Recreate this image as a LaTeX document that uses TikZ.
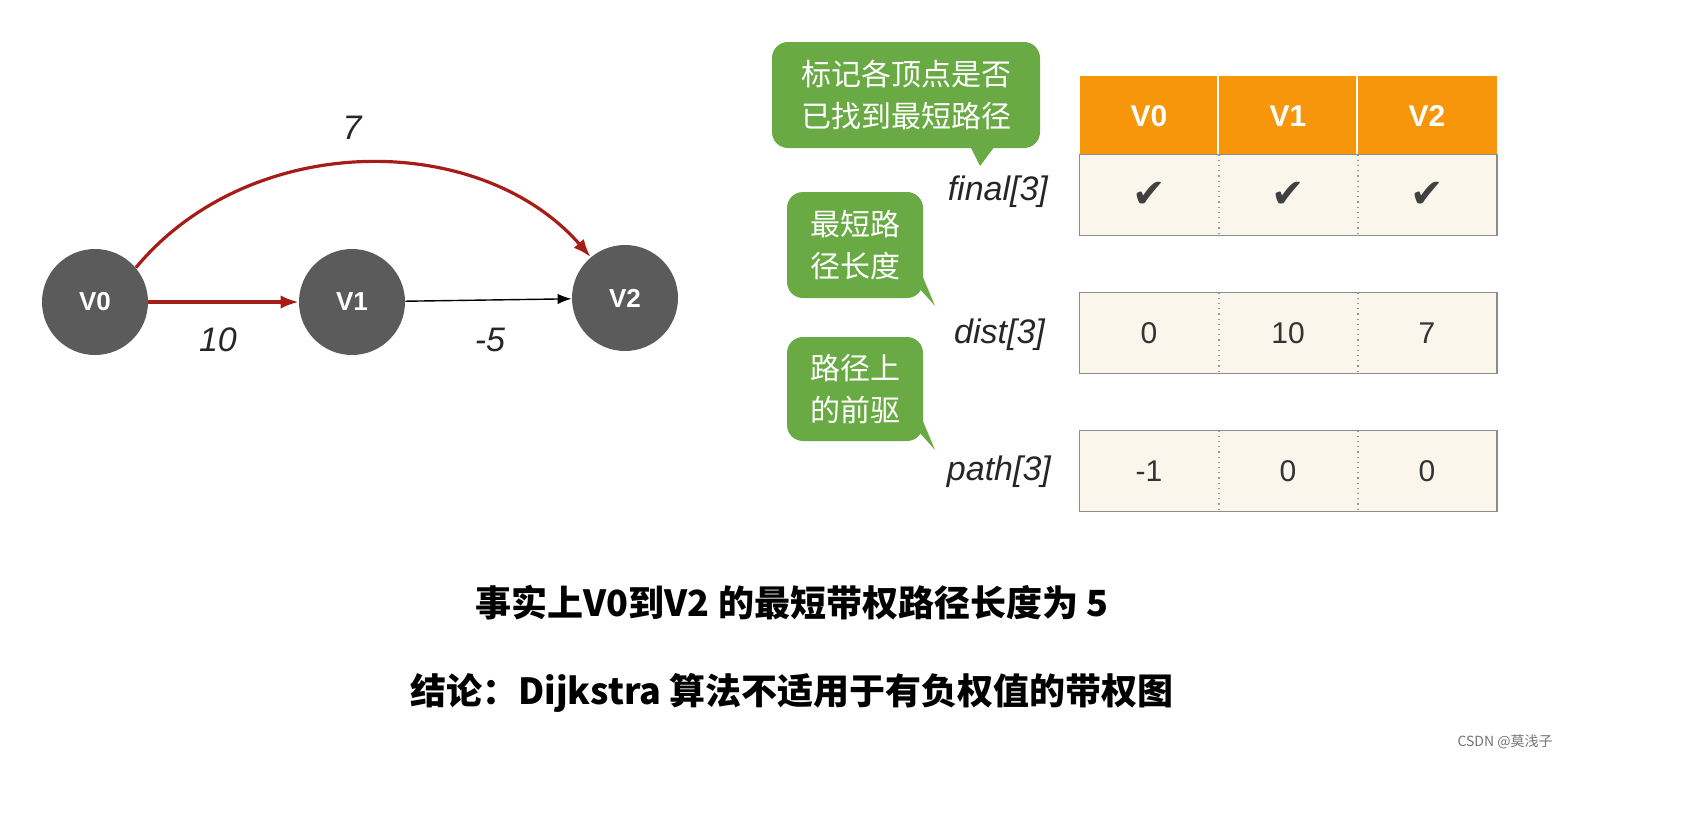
\documentclass[tikz,border=0pt]{standalone}
\usepackage{fontspec}
\usetikzlibrary{arrows.meta}
\setmainfont{Liberation Sans}
\newfontfamily\cjk{Noto Sans CJK SC}
\newfontfamily\sym{DejaVu Sans}
\definecolor{vgray}{HTML}{5B5B5B}
\definecolor{ered}{HTML}{A51D16}
\definecolor{hdr}{HTML}{F7960B}
\definecolor{cellbg}{HTML}{FAF6EC}
\definecolor{bgreen}{HTML}{6AAA45}
\begin{document}
\begin{tikzpicture}[x=0.5pt,y=-0.5pt,
  vert/.style={circle,fill=vgray,minimum size=53pt,inner sep=0,text=white,font=\bfseries\fontsize{13}{15}\selectfont},
  wlab/.style={font=\itshape\fontsize{17}{19}\selectfont,text=black!85},
  cell/.style={draw=black!45,fill=cellbg,minimum width=69.5pt,minimum height=40pt,inner sep=0,font=\fontsize{15}{17}\selectfont,text=black!80},
  hcell/.style={fill=hdr,minimum width=69.5pt,minimum height=40pt,inner sep=0,text=white,font=\bfseries\fontsize{15}{17}\selectfont},
  rlab/.style={anchor=east,font=\itshape\fontsize{17}{19}\selectfont,text=black!85},
  bub/.style={fill=bgreen,rounded corners=8pt,text=white,align=center,font=\cjk\fontsize{15}{21}\selectfont,inner sep=0},
  bigt/.style={font=\cjk\bfseries\fontsize{18}{21}\selectfont}]
\useasboundingbox (0,0) rectangle (1685,815);
\node[vert] (v0) at (95,302) {V0};
\node[vert] (v1) at (352,302) {V1};
\node[vert] (v2) at (625,298) {V2};
\draw[ered,line width=1.6pt,-{Latex[length=9pt]}] (v0) -- (v1);
\draw[black,line width=0.7pt,-{Latex[length=7pt]}] (v1) -- (v2);
\draw[ered,line width=1.6pt,-{Latex[length=9pt]}] (v0.40) .. controls (250,130) and (480,130) .. (v2.130);
\node[wlab] (w7) at (352,128) {7};
\node[wlab] (w10) at (218,340) {10};
\node[wlab] (w5) at (490,340) {-5};
% table
\foreach \c/\x in {0/1149,1/1288,2/1427}{
  \node[hcell] (h\c) at (\x,116) {V\c};
}
\draw[white,line width=0.6pt] (1218,76) -- (1218,155) (1357,76) -- (1357,155);
\foreach \r/\y in {f/195,d/333,p/471}{
  \foreach \c/\x in {0/1149,1/1288,2/1427}{
    \node[cell,draw=none] (\r\c) at (\x,\y) {};
  }
  \draw[black!45,line width=0.6pt] (\r0.north west) rectangle (\r2.south east);
  \draw[black!40,dotted,line width=0.6pt] (\r0.north east) -- (\r0.south east) (\r1.north east) -- (\r1.south east);
}
\foreach \c in {0,1,2}{\node[font=\sym\fontsize{20}{22}\selectfont,text=black!75] at (f\c) {✔};}
\node at (d0) [font=\fontsize{15}{17}\selectfont,text=black!80] {0};
\node at (d1) [font=\fontsize{15}{17}\selectfont,text=black!80] {10};
\node at (d2) [font=\fontsize{15}{17}\selectfont,text=black!80] {7};
\node at (p0) [font=\fontsize{15}{17}\selectfont,text=black!80] {-1};
\node at (p1) [font=\fontsize{15}{17}\selectfont,text=black!80] {0};
\node at (p2) [font=\fontsize{15}{17}\selectfont,text=black!80] {0};
\node[rlab] (lf) at (1055,192) {final[3]};
\node[rlab] (ld) at (1052,335) {dist[3]};
\node[rlab] (lp) at (1058,472) {path[3]};
% bubbles
\node[bub,minimum width=134pt,minimum height=53pt] (b1) at (906,95) {标记各顶点是否\\已找到最短路径};
\fill[bgreen] (970,146) -- (980,166) -- (995,146) -- cycle;
\node[bub,minimum width=68pt,minimum height=53pt] (b2) at (855,245) {最短路\\径长度};
\fill[bgreen] (912,280) -- (935,306) -- (920,270) -- cycle;
\node[bub,minimum width=68pt,minimum height=52pt] (b3) at (855,389) {路径上\\的前驱};
\fill[bgreen] (912,424) -- (935,450) -- (920,414) -- cycle;
\node[bigt] (t1) at (792,603) {事实上V0到V2 的最短带权路径长度为 5};
\node[bigt] (t2) at (792,693) {结论：Dijkstra 算法不适用于有负权值的带权图};
\node[font=\cjk\fontsize{7}{8}\selectfont,text=black!55] (wm) at (1505,742) {CSDN @莫浅子};
\end{tikzpicture}
\end{document}
